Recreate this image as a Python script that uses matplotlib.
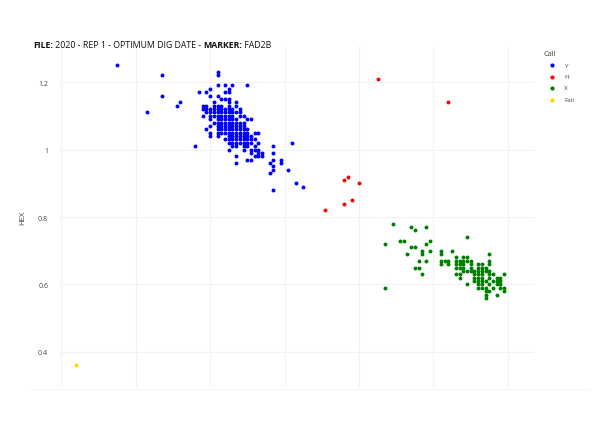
import matplotlib
matplotlib.use("Agg")
import matplotlib.pyplot as plt
from matplotlib.lines import Line2D

###############################################################################
#  DATA (FAM on x, HEX on y)
###############################################################################
CALLS = ["Y", "H", "X", "Fail"]
CALL_COLORS = ["#0000FF", "#FF0000", "#008000", "#FFD700"]

y_points = [
    (0.15, 1.25), (0.42, 1.23), (0.27, 1.22), (0.42, 1.22),
    (0.42, 1.19), (0.44, 1.19), (0.46, 1.19), (0.50, 1.19),
    (0.40, 1.18), (0.45, 1.18),
    (0.37, 1.17), (0.39, 1.17), (0.44, 1.17), (0.45, 1.17),
    (0.27, 1.16), (0.40, 1.16), (0.42, 1.16),
    (0.43, 1.15), (0.44, 1.15), (0.45, 1.15),
    (0.32, 1.14), (0.41, 1.14), (0.45, 1.14), (0.47, 1.14),
    (0.31, 1.13), (0.38, 1.13), (0.39, 1.13), (0.41, 1.13), (0.42, 1.13),
    (0.43, 1.13), (0.45, 1.13), (0.47, 1.13),
    (0.38, 1.12), (0.39, 1.12), (0.40, 1.12), (0.41, 1.12), (0.42, 1.12),
    (0.43, 1.12), (0.44, 1.12), (0.45, 1.12), (0.46, 1.12), (0.48, 1.12),
    (0.23, 1.11), (0.39, 1.11), (0.40, 1.11), (0.41, 1.11), (0.42, 1.11),
    (0.43, 1.11), (0.44, 1.11), (0.45, 1.11), (0.46, 1.11), (0.47, 1.11),
    (0.48, 1.11),
    (0.38, 1.10), (0.40, 1.10), (0.41, 1.10), (0.42, 1.10), (0.43, 1.10),
    (0.44, 1.10), (0.45, 1.10), (0.46, 1.10), (0.48, 1.10), (0.49, 1.10),
    (0.40, 1.09), (0.42, 1.09), (0.43, 1.09), (0.44, 1.09), (0.45, 1.09),
    (0.46, 1.09), (0.47, 1.09), (0.50, 1.09), (0.51, 1.09),
    (0.41, 1.08), (0.42, 1.08), (0.43, 1.08), (0.44, 1.08), (0.45, 1.08),
    (0.46, 1.08), (0.47, 1.08), (0.48, 1.08), (0.49, 1.08),
    (0.40, 1.07), (0.42, 1.07), (0.43, 1.07), (0.44, 1.07), (0.45, 1.07),
    (0.46, 1.07), (0.47, 1.07), (0.48, 1.07), (0.49, 1.07),
    (0.39, 1.06), (0.42, 1.06), (0.43, 1.06), (0.44, 1.06), (0.45, 1.06),
    (0.46, 1.06), (0.47, 1.06), (0.48, 1.06), (0.49, 1.06), (0.50, 1.06),
    (0.40, 1.05), (0.42, 1.05), (0.43, 1.05), (0.44, 1.05), (0.45, 1.05),
    (0.46, 1.05), (0.47, 1.05), (0.48, 1.05), (0.49, 1.05), (0.50, 1.05),
    (0.52, 1.05), (0.53, 1.05),
    (0.40, 1.04), (0.42, 1.04), (0.45, 1.04), (0.46, 1.04), (0.47, 1.04),
    (0.48, 1.04), (0.49, 1.04), (0.50, 1.04), (0.51, 1.04),
    (0.44, 1.03), (0.45, 1.03), (0.46, 1.03), (0.47, 1.03), (0.48, 1.03),
    (0.49, 1.03), (0.50, 1.03), (0.51, 1.03), (0.52, 1.03),
    (0.45, 1.02), (0.46, 1.02), (0.47, 1.02), (0.48, 1.02), (0.49, 1.02),
    (0.50, 1.02), (0.51, 1.02), (0.53, 1.02), (0.62, 1.02),
    (0.36, 1.01), (0.46, 1.01), (0.47, 1.01), (0.49, 1.01), (0.50, 1.01),
    (0.52, 1.01), (0.57, 1.01),
    (0.45, 1.00), (0.49, 1.00), (0.51, 1.00), (0.52, 1.00), (0.53, 1.00),
    (0.51, 0.99), (0.53, 0.99), (0.54, 0.99), (0.57, 0.99),
    (0.47, 0.98), (0.52, 0.98), (0.53, 0.98), (0.54, 0.98),
    (0.50, 0.97), (0.51, 0.97), (0.57, 0.97), (0.59, 0.97),
    (0.47, 0.96), (0.56, 0.96), (0.59, 0.96),
    (0.57, 0.95), (0.57, 0.94), (0.61, 0.94), (0.56, 0.93),
    (0.63, 0.90), (0.65, 0.89), (0.57, 0.88),
]

h_points = [
    (0.85, 1.21), (1.04, 1.14), (0.77, 0.92), (0.76, 0.91),
    (0.80, 0.90), (0.78, 0.85), (0.76, 0.84), (0.71, 0.82),
]

x_points = [
    (0.89, 0.78), (0.94, 0.77), (0.98, 0.77), (0.95, 0.76), (1.09, 0.74),
    (0.91, 0.73), (0.92, 0.73), (0.99, 0.73), (0.87, 0.72), (0.98, 0.72),
    (0.94, 0.71), (0.95, 0.71),
    (0.97, 0.70), (0.99, 0.70), (1.02, 0.70), (1.05, 0.70),
    (0.93, 0.69), (0.97, 0.69), (1.02, 0.69), (1.15, 0.69),
    (1.06, 0.68), (1.08, 0.68), (1.09, 0.68),
    (0.96, 0.67), (0.98, 0.67), (1.02, 0.67), (1.03, 0.67), (1.04, 0.67),
    (1.06, 0.67), (1.07, 0.67), (1.08, 0.67), (1.09, 0.67), (1.10, 0.67),
    (1.15, 0.67),
    (1.02, 0.66), (1.04, 0.66), (1.06, 0.66), (1.07, 0.66), (1.08, 0.66),
    (1.10, 0.66), (1.12, 0.66), (1.13, 0.66), (1.15, 0.66),
    (0.95, 0.65), (0.96, 0.65), (1.06, 0.65), (1.07, 0.65), (1.08, 0.65),
    (1.10, 0.65), (1.12, 0.65), (1.13, 0.65), (1.14, 0.65),
    (1.08, 0.64), (1.09, 0.64), (1.10, 0.64), (1.11, 0.64), (1.12, 0.64),
    (1.13, 0.64), (1.14, 0.64), (1.15, 0.64),
    (0.97, 0.63), (1.06, 0.63), (1.07, 0.63), (1.11, 0.63), (1.12, 0.63),
    (1.13, 0.63), (1.15, 0.63), (1.16, 0.63), (1.19, 0.63),
    (1.07, 0.62), (1.11, 0.62), (1.12, 0.62), (1.13, 0.62), (1.15, 0.62),
    (1.17, 0.62), (1.18, 0.62),
    (1.11, 0.61), (1.12, 0.61), (1.13, 0.61), (1.14, 0.61), (1.16, 0.61),
    (1.17, 0.61), (1.18, 0.61),
    (1.09, 0.60), (1.12, 0.60), (1.13, 0.60), (1.15, 0.60), (1.17, 0.60),
    (1.18, 0.60),
    (0.87, 0.59), (1.12, 0.59), (1.13, 0.59), (1.14, 0.59), (1.16, 0.59),
    (1.18, 0.59), (1.19, 0.59),
    (1.14, 0.58), (1.15, 0.58), (1.19, 0.58),
    (1.14, 0.57), (1.17, 0.57), (1.14, 0.56),
]

fail_points = [(0.04, 0.36)]

Y_TICKS = [0.4, 0.6, 0.8, 1.0, 1.2]
Y_TICK_LABELS = ["0.4", "0.6", "0.8", "1", "1.2"]
X_GRID = [0.0, 0.2, 0.4, 0.6, 0.8, 1.0, 1.2]

TITLE_PARTS = [("FILE:", "bold"), (" 2020 - REP 1 - OPTIMUM DIG DATE - ", "normal"),
               ("MARKER:", "bold"), (" FAD2B", "normal")]

###############################################################################
#  STYLE
###############################################################################
plt.rcParams["font.family"] = ["Open Sans", "DejaVu Sans"]
GRID_COLOR = "#EEF2F9"
TEXT_COLOR = "#444444"
MARKER_SIZE = 8

###############################################################################
#  PLOT
###############################################################################
fig = plt.figure(figsize=(6, 4.35), dpi=100)
ax = fig.add_axes([0.1, 0.108, 0.79, 0.784])

all_points = [y_points, h_points, x_points, fail_points]
for pts, color in zip(all_points, CALL_COLORS):
    xs = [p[0] for p in pts]
    ys = [p[1] for p in pts]
    ax.scatter(xs, ys, s=MARKER_SIZE, color=color, linewidths=0, zorder=3)

ax.set_xlim(-0.003, 1.27)
ax.set_ylim(0.296, 1.307)
ax.set_xticks(X_GRID)
ax.set_xticklabels([])
ax.set_yticks(Y_TICKS)
ax.set_yticklabels(Y_TICK_LABELS)
ax.tick_params(length=0, labelsize=5, labelcolor=TEXT_COLOR, pad=8.5)
ax.grid(color=GRID_COLOR, linewidth=0.8)
ax.set_axisbelow(True)
for spine in ax.spines.values():
    spine.set_visible(False)

ax.set_ylabel("HEX", fontsize=5.5, color=TEXT_COLOR)
ax.yaxis.set_label_coords(-0.072, 0.5)

# faint line under the plot area
fig.add_artist(Line2D([0.05, 0.98], [1 - 390 / 435] * 2, color="#F2F4F7", lw=0.8))

# title made of bold / normal pieces
renderer = fig.canvas.get_renderer()
x_pos = 33 / 600
for text, weight in TITLE_PARTS:
    t = fig.text(x_pos, 1 - 46 / 435, text, fontsize=6.3, fontweight=weight,
                 color="#111111", va="center", ha="left")
    bb = t.get_window_extent(renderer=renderer)
    x_pos += bb.width / fig.bbox.width

# legend drawn by hand
fig.text(543 / 600, 1 - 55 / 435, "Call", fontsize=5.3, color=TEXT_COLOR,
         va="center", ha="left")
for i, (label, color) in enumerate(zip(CALLS, CALL_COLORS)):
    yy = 1 - (66 + i * 11.5) / 435
    fig.add_artist(Line2D([552 / 600], [yy], marker="o", markersize=3,
                          markeredgewidth=0, color=color))
    fig.text(564 / 600, yy, label, fontsize=4.6, color=TEXT_COLOR,
             va="center", ha="left")

fig.savefig("out.png", dpi=100)
